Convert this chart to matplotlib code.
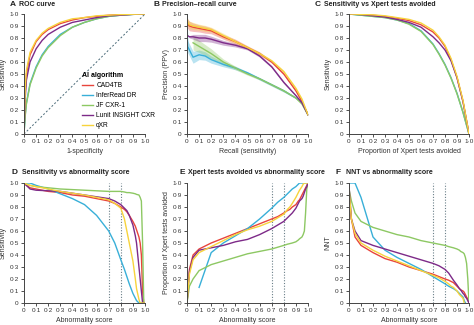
import numpy as np
import matplotlib.pyplot as plt
from matplotlib.ticker import FuncFormatter, MultipleLocator

plt.rcParams['font.family'] = ['Liberation Sans Narrow', 'Liberation Sans', 'DejaVu Sans']

names = ['CAD4TB', 'InferRead DR', 'JF CXR-1', 'Lunit INSIGHT CXR', 'qXR']
colors = ['#e8453c', '#38afd8', '#8dc863', '#7d2a88', '#f7d33c']

## A: ROC curve  (x = 1-specificity, y = sensitivity)
roc_x = [0, 0.01, 0.02, 0.05, 0.1, 0.15, 0.2, 0.3, 0.4, 0.5, 0.6, 0.7, 0.8, 0.9, 1.0]
roc = {
    'CAD4TB':            [0, 0.35, 0.5, 0.66, 0.77, 0.83, 0.87, 0.92, 0.95, 0.97, 0.98, 0.99, 0.995, 0.998, 1],
    'InferRead DR':      [0, 0.16, 0.26, 0.42, 0.56, 0.66, 0.73, 0.83, 0.89, 0.93, 0.96, 0.98, 0.99, 0.997, 1],
    'JF CXR-1':          [0, 0.15, 0.25, 0.41, 0.55, 0.65, 0.72, 0.82, 0.89, 0.93, 0.96, 0.98, 0.99, 0.997, 1],
    'Lunit INSIGHT CXR': [0, 0.3, 0.45, 0.6, 0.71, 0.78, 0.83, 0.89, 0.93, 0.95, 0.97, 0.985, 0.99, 0.997, 1],
    'qXR':               [0, 0.38, 0.53, 0.68, 0.78, 0.84, 0.88, 0.93, 0.96, 0.97, 0.985, 0.99, 0.995, 0.998, 1],
}

## B: precision-recall curve with CI bands
pr_x = [0, 0.005, 0.02, 0.05, 0.1, 0.15, 0.2, 0.3, 0.4, 0.5, 0.6, 0.7, 0.8, 0.9, 0.95, 1.0]
pr = {
    'CAD4TB':            [0.95, 0.92, 0.9, 0.89, 0.88, 0.87, 0.86, 0.81, 0.77, 0.72, 0.67, 0.6, 0.5, 0.36, 0.27, 0.16],
    'InferRead DR':      [1.0, 0.73, 0.7, 0.64, 0.66, 0.65, 0.62, 0.58, 0.55, 0.51, 0.46, 0.41, 0.36, 0.3, 0.26, 0.16],
    'JF CXR-1':          [None, None, None, 0.76, 0.73, 0.7, 0.67, 0.6, 0.55, 0.5, 0.46, 0.41, 0.36, 0.3, 0.25, 0.16],
    'Lunit INSIGHT CXR': [0.82, 0.82, 0.81, 0.81, 0.8, 0.8, 0.79, 0.76, 0.74, 0.71, 0.65, 0.56, 0.43, 0.32, 0.26, 0.16],
    'qXR':               [0.96, 0.93, 0.91, 0.9, 0.89, 0.88, 0.87, 0.82, 0.77, 0.72, 0.67, 0.61, 0.52, 0.38, 0.29, 0.16],
}
pr_band = {
    'CAD4TB':            [0.04, 0.04, 0.04, 0.035, 0.03, 0.03, 0.025, 0.02, 0.02, 0.015, 0.015, 0.01, 0.01, 0.01, 0.01, 0.005],
    'InferRead DR':      [0.0, 0.05, 0.05, 0.05, 0.04, 0.035, 0.03, 0.02, 0.015, 0.01, 0.01, 0.01, 0.01, 0.005, 0.005, 0.005],
    'JF CXR-1':          [0, 0, 0, 0.06, 0.05, 0.045, 0.04, 0.025, 0.015, 0.01, 0.01, 0.01, 0.01, 0.005, 0.005, 0.005],
    'Lunit INSIGHT CXR': [0.0, 0.0, 0.01, 0.02, 0.03, 0.03, 0.025, 0.02, 0.015, 0.01, 0.01, 0.01, 0.01, 0.005, 0.005, 0.005],
    'qXR':               [0.03, 0.03, 0.03, 0.03, 0.025, 0.025, 0.02, 0.02, 0.015, 0.015, 0.01, 0.01, 0.01, 0.01, 0.01, 0.005],
}

## C: sensitivity vs proportion of Xpert tests avoided
av_x = [0, 0.1, 0.2, 0.3, 0.4, 0.5, 0.6, 0.7, 0.75, 0.8, 0.85, 0.9, 0.95, 1.0]
av = {
    'CAD4TB':            [1, 0.995, 0.99, 0.98, 0.965, 0.945, 0.91, 0.85, 0.8, 0.73, 0.62, 0.47, 0.27, 0],
    'InferRead DR':      [1, 0.99, 0.98, 0.97, 0.95, 0.92, 0.86, 0.75, 0.67, 0.58, 0.47, 0.34, 0.18, 0],
    'JF CXR-1':          [1, 0.99, 0.98, 0.97, 0.95, 0.915, 0.855, 0.745, 0.665, 0.575, 0.465, 0.335, 0.18, 0],
    'Lunit INSIGHT CXR': [1, 0.995, 0.985, 0.975, 0.955, 0.93, 0.89, 0.81, 0.76, 0.7, 0.61, 0.47, 0.27, 0],
    'qXR':               [1, 0.997, 0.993, 0.985, 0.97, 0.955, 0.925, 0.865, 0.81, 0.74, 0.63, 0.48, 0.28, 0],
}

## D: sensitivity vs abnormality score
score_x = [0, 0.02, 0.05, 0.1, 0.2, 0.3, 0.4, 0.5, 0.6, 0.7, 0.75, 0.8, 0.83, 0.85, 0.87, 0.9, 0.92, 0.93, 0.95, 0.96, 0.97, 0.98, 0.99, 1.0]
sens = {
    'CAD4TB':            [1, 0.98, 0.96, 0.95, 0.93, 0.92, 0.9, 0.89, 0.87, 0.85, 0.83, 0.8, 0.78, 0.76, 0.73, 0.68, 0.64, 0.61, 0.55, 0.5, 0.4, 0.1, 0, 0],
    'InferRead DR':      [1, 1, 1, 0.98, 0.95, 0.91, 0.87, 0.82, 0.73, 0.6, 0.5, 0.36, 0.28, 0.22, 0.16, 0.08, 0.04, 0.02, 0, 0, 0, 0, 0, 0],
    'JF CXR-1':          [1, 0.99, 0.98, 0.97, 0.96, 0.95, 0.945, 0.94, 0.935, 0.93, 0.93, 0.93, 0.925, 0.92, 0.92, 0.915, 0.91, 0.905, 0.9, 0.88, 0.85, 0.5, 0, 0],
    'Lunit INSIGHT CXR': [1, 0.98, 0.95, 0.94, 0.935, 0.93, 0.915, 0.9, 0.885, 0.87, 0.85, 0.82, 0.79, 0.77, 0.73, 0.65, 0.56, 0.5, 0.3, 0.2, 0.1, 0, 0, 0],
    'qXR':               [1, 0.99, 0.98, 0.97, 0.95, 0.93, 0.915, 0.9, 0.88, 0.86, 0.83, 0.79, 0.7, 0.6, 0.5, 0.35, 0.2, 0.12, 0.03, 0, 0, 0, 0, 0],
}

## E: proportion of Xpert tests avoided vs abnormality score
avoid = {
    'CAD4TB':            [0, 0.28, 0.4, 0.45, 0.5, 0.54, 0.58, 0.62, 0.66, 0.7, 0.72, 0.75, 0.77, 0.78, 0.8, 0.82, 0.85, 0.86, 0.9, 0.92, 0.94, 0.96, 0.98, 1],
    'InferRead DR':      [None, None, None, 0.13, 0.42, 0.5, 0.56, 0.62, 0.7, 0.79, 0.84, 0.88, 0.91, 0.93, 0.95, 0.97, 0.99, 1.0, 1, 1, 1, 1, 1, 1],
    'JF CXR-1':          [0, 0.14, 0.2, 0.27, 0.32, 0.35, 0.38, 0.41, 0.43, 0.45, 0.465, 0.48, 0.49, 0.495, 0.5, 0.51, 0.525, 0.535, 0.55, 0.57, 0.6, 0.75, 0.95, 1],
    'Lunit INSIGHT CXR': [0, 0.26, 0.38, 0.44, 0.46, 0.48, 0.51, 0.53, 0.57, 0.62, 0.65, 0.68, 0.71, 0.73, 0.75, 0.79, 0.83, 0.85, 0.87, 0.89, 0.92, 0.95, 0.97, 1],
    'qXR':               [0, 0.24, 0.36, 0.42, 0.47, 0.52, 0.57, 0.61, 0.64, 0.68, 0.71, 0.74, 0.78, 0.8, 0.83, 0.88, 0.92, 0.94, 0.97, 0.99, 1, 1, 1, 1],
}

## F: NNT vs abnormality score
nnt = {
    'CAD4TB':            [0.9, 0.7, 0.55, 0.48, 0.42, 0.37, 0.34, 0.3, 0.27, 0.24, 0.22, 0.2, 0.19, 0.18, 0.17, 0.14, 0.12, 0.11, 0.1, 0.09, 0.07, 0.05, 0.03, 0],
    'InferRead DR':      [1.0, 1.0, 1.0, 0.88, 0.55, 0.44, 0.38, 0.33, 0.28, 0.22, 0.19, 0.16, 0.14, 0.13, 0.12, 0.1, 0.08, 0.07, 0.05, 0.02, 0, None, None, None],
    'JF CXR-1':          [0.95, 0.85, 0.75, 0.68, 0.63, 0.6, 0.57, 0.55, 0.52, 0.5, 0.49, 0.48, 0.47, 0.465, 0.46, 0.45, 0.44, 0.43, 0.42, 0.41, 0.38, 0.33, 0.2, 0],
    'Lunit INSIGHT CXR': [0.98, 0.7, 0.6, 0.52, 0.48, 0.45, 0.42, 0.39, 0.36, 0.33, 0.31, 0.28, 0.25, 0.22, 0.19, 0.15, 0.12, 0.11, 0.08, 0.07, 0.05, 0.04, 0.02, 0],
    'qXR':               [0.95, 0.7, 0.58, 0.5, 0.44, 0.39, 0.35, 0.31, 0.27, 0.23, 0.21, 0.18, 0.16, 0.14, 0.13, 0.1, 0.07, 0.06, 0.04, 0, None, None, None, None],
}


def lancet(v, pos):
    if abs(v) < 1e-9:
        return '0'
    return f'{v:.1f}'.replace('.', '\u00b7')


def style(ax, xlabel, ylabel):
    ax.set_xlim(0, 1.0)
    ax.set_ylim(0, 1.0)
    ax.xaxis.set_major_locator(MultipleLocator(0.1))
    ax.yaxis.set_major_locator(MultipleLocator(0.1))
    ax.xaxis.set_major_formatter(FuncFormatter(lancet))
    ax.yaxis.set_major_formatter(FuncFormatter(lancet))
    for s in ['top', 'right']:
        ax.spines[s].set_visible(False)
    for s in ['left', 'bottom']:
        ax.spines[s].set_color('#444444')
        ax.spines[s].set_linewidth(0.7)
    ax.tick_params(length=2.5, width=0.6, pad=1.2, labelsize=4.6, colors='#333333')
    ax.set_xlabel(xlabel, fontsize=5, color='#333333', labelpad=3)
    ax.set_ylabel(ylabel, fontsize=5, color='#333333', labelpad=2)


def clean(x, y):
    pts = [(a, b) for a, b in zip(x, y) if b is not None]
    return [p[0] for p in pts], [p[1] for p in pts]


fig = plt.figure(figsize=(4.74, 3.25), dpi=100)
W, H = 474, 325
top_b, bot_b, hgt = (H - 134) / H, (H - 303) / H, 120 / H
axA = fig.add_axes([24 / W, top_b, 121 / W, hgt])
axB = fig.add_axes([187 / W, top_b, 121 / W, hgt])
axC = fig.add_axes([349 / W, top_b, 120 / W, hgt])
axD = fig.add_axes([24 / W, bot_b, 121 / W, hgt])
axE = fig.add_axes([187 / W, bot_b, 121 / W, hgt])
axF = fig.add_axes([349 / W, bot_b, 120 / W, hgt])

lw = 1.0
# A
axA.plot([0, 1], [0, 1], ls=(0, (2, 2)), color='#4a6a78', lw=0.7)
for n, c in zip(names, colors):
    axA.plot(roc_x, roc[n], color=c, lw=lw, label=n)
leg = axA.legend(title='AI algorithm', loc='upper left', bbox_to_anchor=(0.47, 0.52), frameon=False,
                 fontsize=4.8, title_fontsize=5, handlelength=1.7, handletextpad=0.5,
                 labelspacing=0.45, borderpad=0.1, borderaxespad=0)
leg._legend_box.align = 'left'
leg.get_title().set_fontweight('bold')
style(axA, '1-specificity', 'Sensitivity')

# B
for n, c in zip(names, colors):
    xs, ys = clean(pr_x, pr[n])
    _, bw = clean(pr_x, [b if v is not None else None for b, v in zip(pr_band[n], pr[n])])
    ys = np.array(ys)
    bw = np.array(bw)
    axB.fill_between(xs, ys - bw, ys + bw, color=c, alpha=0.35, lw=0)
    axB.plot(xs, ys, color=c, lw=lw)
style(axB, 'Recall (sensitivity)', 'Precision (PPV)')

# C
for n, c in zip(names, colors):
    axC.plot(av_x, av[n], color=c, lw=lw)
style(axC, 'Proportion of Xpert tests avoided', 'Sensitivity')

# D, E, F
for ax, data, ylabel in [(axD, sens, 'Sensitivity'), (axE, avoid, 'Proportion of Xpert tests avoided'),
                         (axF, nnt, 'NNT')]:
    for v in [0.7, 0.8]:
        ax.axvline(v, color='#6a7f88', ls=(0, (1, 1.5)), lw=0.8)
    for n, c in zip(names, colors):
        xs, ys = clean(score_x, data[n])
        ax.plot(xs, ys, color=c, lw=lw)
    style(ax, 'Abnormality score', ylabel)

# panel letter x, title x, y (pixels)
titles = [('A', 'ROC curve', 10, 19, 4), ('B', 'Precision\u2013recall curve', 153, 162, 4),
          ('C', 'Sensitivity vs Xpert tests avoided', 315, 324, 4),
          ('D', 'Sensitivity vs abnormality score', 12, 22, 172),
          ('E', 'Xpert tests avoided vs abnormality score', 179, 188, 172),
          ('F', 'NNT vs abnormality score', 336, 346, 172)]
for letter, t, px, tx, py in titles:
    fig.text(px / W, 1 - py / H, letter, fontsize=6, fontweight='bold', va='center', ha='left', color='#222222')
    fig.text(tx / W, 1 - py / H, t, fontsize=5, fontweight='bold', va='center', ha='left', color='#222222')

fig.savefig('out.png', dpi=100)
